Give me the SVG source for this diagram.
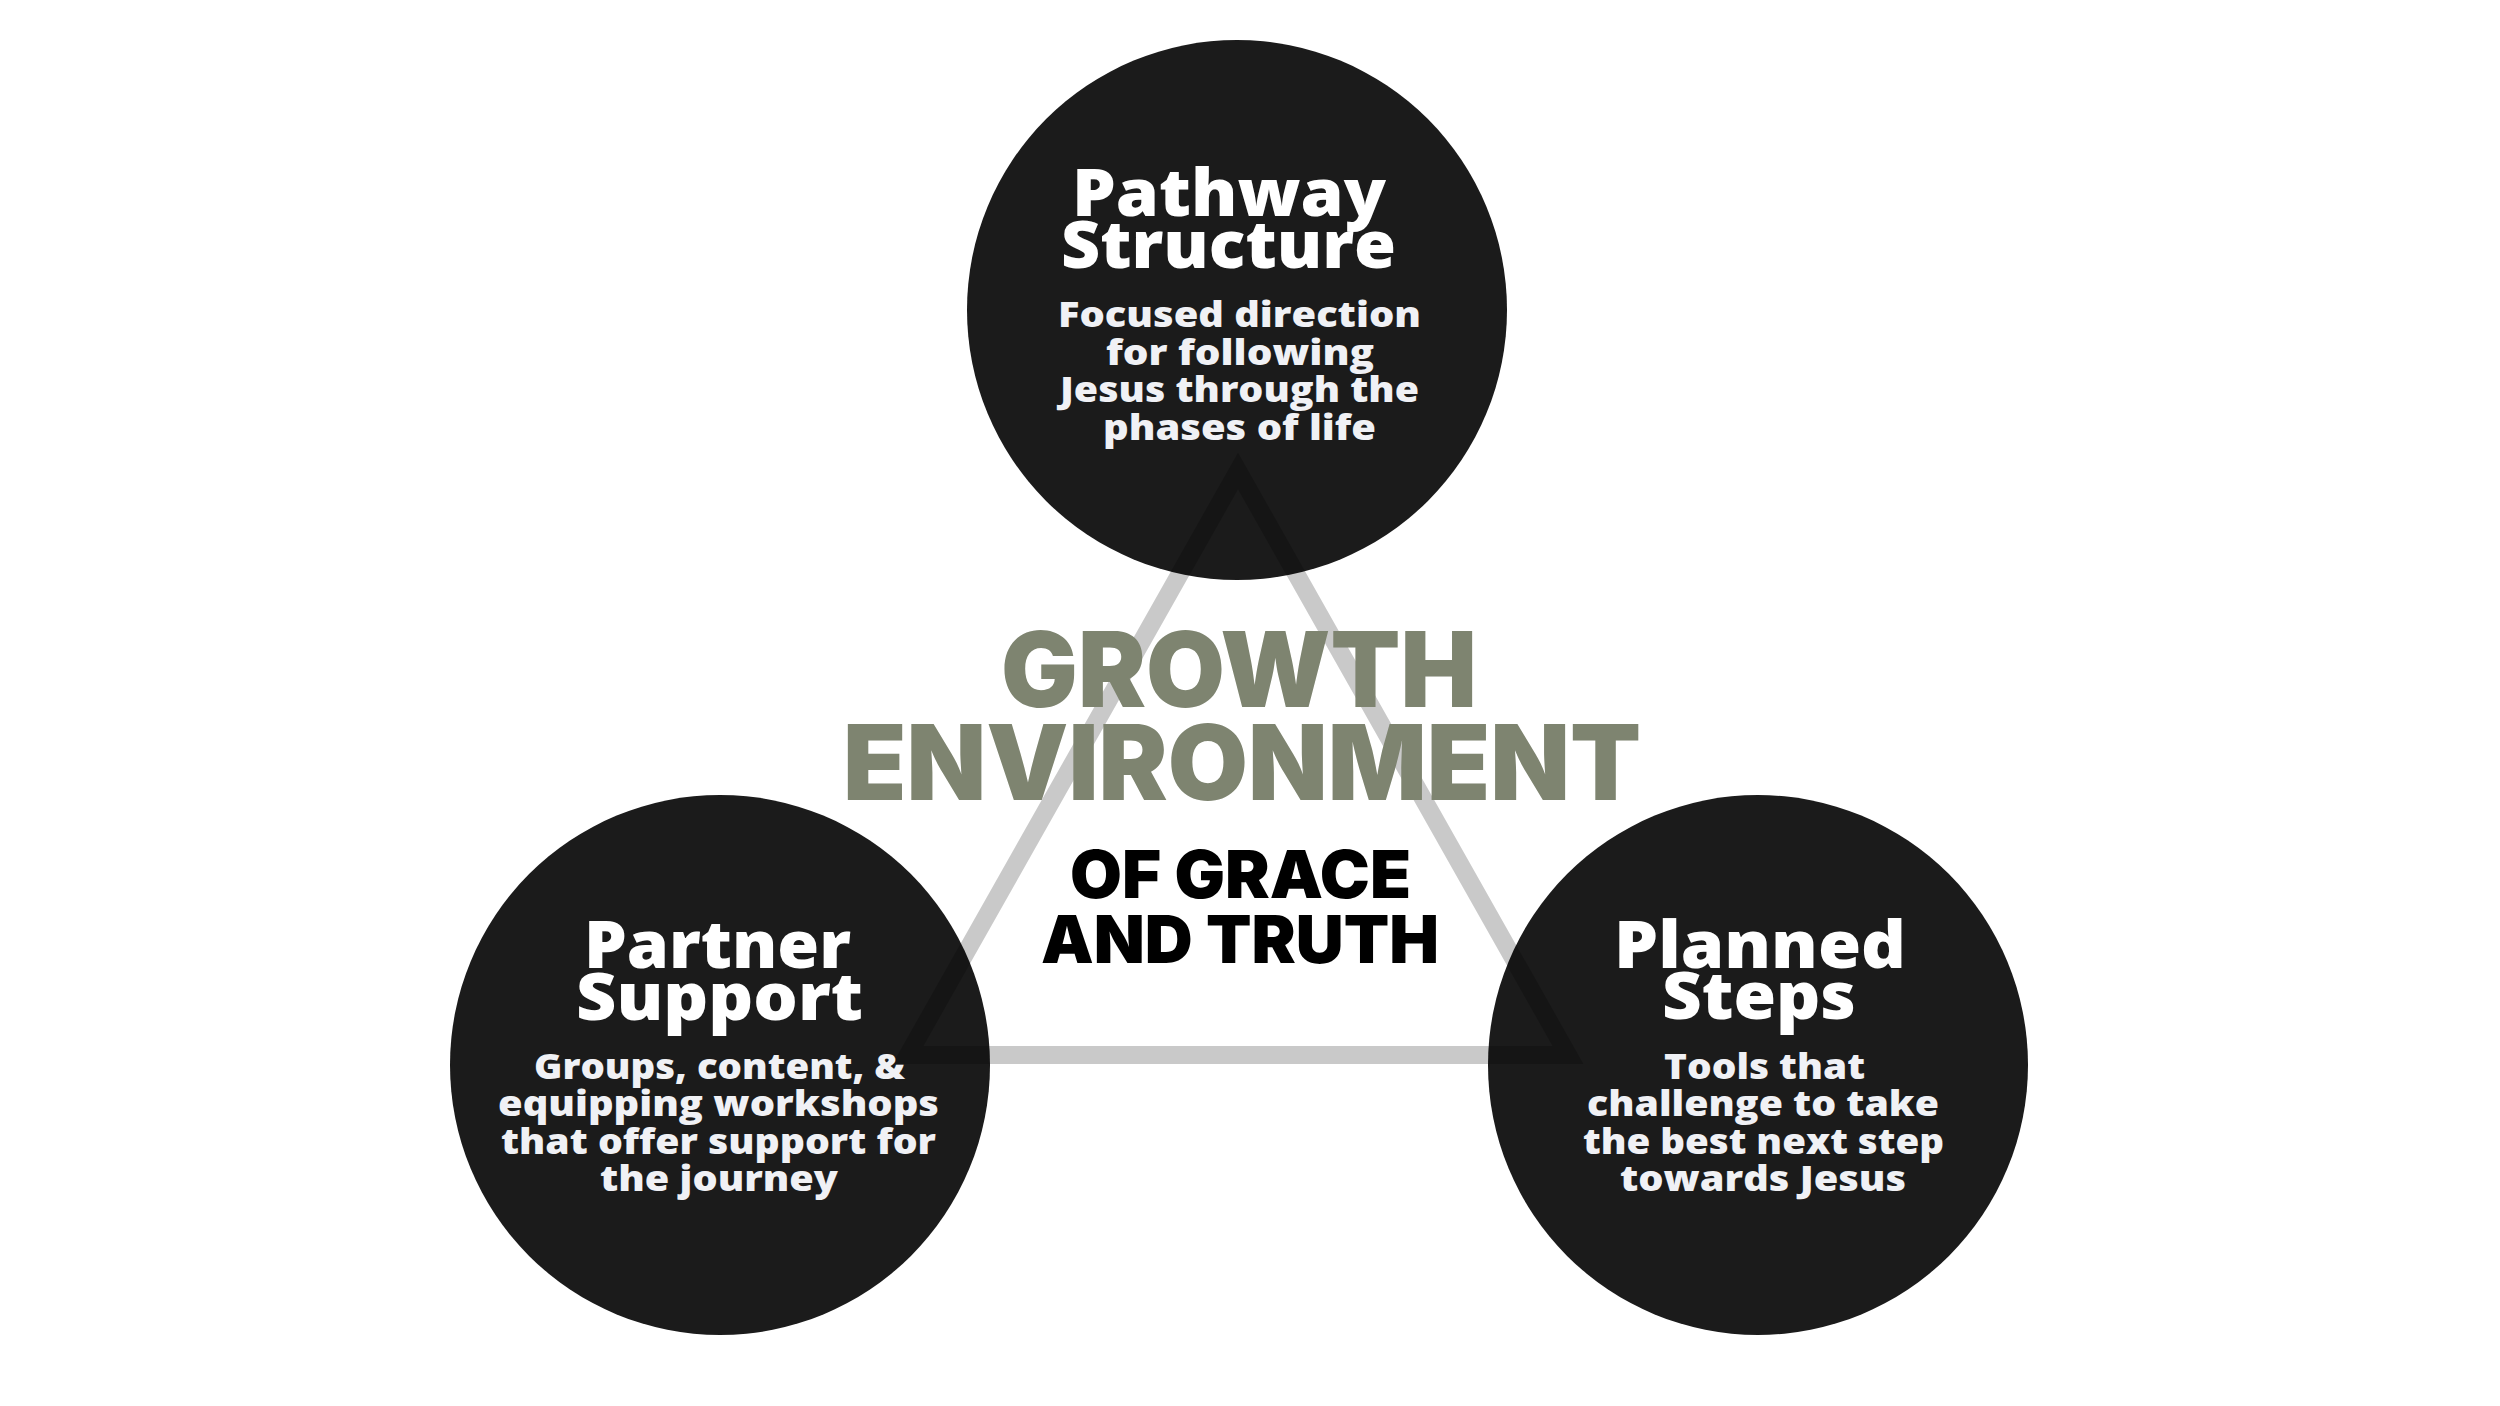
<svg xmlns="http://www.w3.org/2000/svg" width="2500" height="1406" viewBox="0 0 2500 1406">
<style>
.node{fill:#1b1b1b}
.title{font-family:"Open Sans",Lato,"Liberation Sans",sans-serif;font-weight:800;font-size:66px;fill:#ffffff;text-anchor:middle}
.desc{font-family:"Open Sans",Lato,"Liberation Sans",sans-serif;font-weight:800;font-size:35px;fill:#f0f1f5;text-anchor:middle}
.big{font-family:Inter,Roboto,"Liberation Sans",sans-serif;font-weight:900;font-size:104px;fill:#7e8470;text-anchor:middle}
.sub{font-family:Inter,Roboto,"Liberation Sans",sans-serif;font-weight:900;font-size:66px;fill:#000000;text-anchor:middle}
.tri{fill:none;stroke:#000000;stroke-opacity:0.21;stroke-width:18;stroke-linejoin:miter}
</style>
<rect width="2500" height="1406" fill="#ffffff"/>
<g id="node-pathway">
<circle class="node" cx="1237" cy="310" r="270"/>
</g>
<g id="node-partner">
<circle class="node" cx="720" cy="1065" r="270"/>
</g>
<g id="node-planned">
<circle class="node" cx="1758" cy="1065" r="270"/>
</g>
<g id="connectors">
<path class="tri" d="M1238,471 L1568,1055 L908,1055 Z"/>
</g>
<g id="node-pathway-text">
<text class="title" x="1229" y="216" textLength="314" lengthAdjust="spacingAndGlyphs">Pathway</text>
<text class="title" x="1228.5" y="268" textLength="335" lengthAdjust="spacingAndGlyphs">Structure</text>
<text class="desc" x="1239.5" y="327" textLength="363" lengthAdjust="spacingAndGlyphs">Focused direction</text>
<text class="desc" x="1240" y="364.5" textLength="268" lengthAdjust="spacingAndGlyphs">for following</text>
<text class="desc" x="1239.5" y="402" textLength="359" lengthAdjust="spacingAndGlyphs">Jesus through the</text>
<text class="desc" x="1239.5" y="439.5" textLength="273" lengthAdjust="spacingAndGlyphs">phases of life</text>
</g>
<g id="node-partner-text">
<text class="title" x="717.5" y="967.5" textLength="267" lengthAdjust="spacingAndGlyphs">Partner</text>
<text class="title" x="719.5" y="1020" textLength="287" lengthAdjust="spacingAndGlyphs">Support</text>
<text class="desc" x="719.5" y="1078.5" textLength="371" lengthAdjust="spacingAndGlyphs">Groups, content, &amp;</text>
<text class="desc" x="718.5" y="1116" textLength="441" lengthAdjust="spacingAndGlyphs">equipping workshops</text>
<text class="desc" x="718.5" y="1153.5" textLength="435" lengthAdjust="spacingAndGlyphs">that offer support for</text>
<text class="desc" x="719" y="1191" textLength="238" lengthAdjust="spacingAndGlyphs">the journey</text>
</g>
<g id="node-planned-text">
<text class="title" x="1760" y="968" textLength="292" lengthAdjust="spacingAndGlyphs">Planned</text>
<text class="title" x="1759" y="1019" textLength="194" lengthAdjust="spacingAndGlyphs">Steps</text>
<text class="desc" x="1764.5" y="1078.5" textLength="201" lengthAdjust="spacingAndGlyphs">Tools that</text>
<text class="desc" x="1763" y="1116" textLength="352" lengthAdjust="spacingAndGlyphs">challenge to take</text>
<text class="desc" x="1763.5" y="1153.5" textLength="361" lengthAdjust="spacingAndGlyphs">the best next step</text>
<text class="desc" x="1763" y="1191" textLength="286" lengthAdjust="spacingAndGlyphs">towards Jesus</text>
</g>
<g id="center-text">
<text class="big" x="1239" y="707" textLength="476" lengthAdjust="spacingAndGlyphs">GROWTH</text>
<text class="big" x="1242" y="800" textLength="798" lengthAdjust="spacingAndGlyphs">ENVIRONMENT</text>
<text class="sub" x="1240.5" y="898" textLength="341" lengthAdjust="spacingAndGlyphs">OF GRACE</text>
<text class="sub" x="1240" y="963" textLength="398" lengthAdjust="spacingAndGlyphs">AND TRUTH</text>
</g>
</svg>
